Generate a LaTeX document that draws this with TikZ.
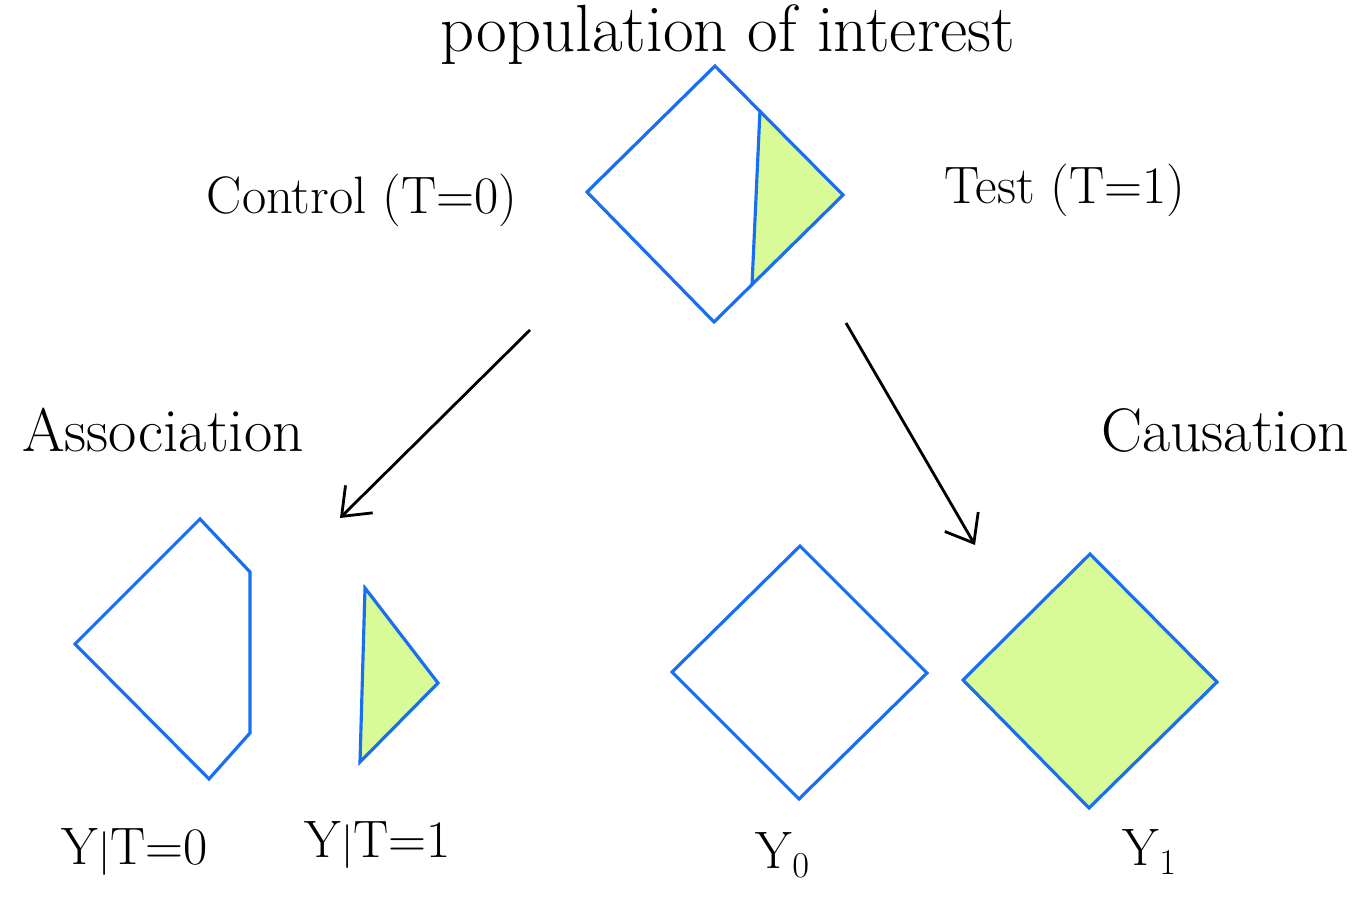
\documentclass[tikz,border=0pt]{standalone}
\usetikzlibrary{arrows.meta}
\definecolor{hblue}{HTML}{1A6EF0}
\definecolor{hgreen}{HTML}{D8FB98}
\tikzset{
  shp/.style={draw=hblue, line width=1.8pt, line join=miter},
  gshp/.style={shp, fill=hgreen},
  lbl/.style={font=\fontsize{30}{34}\selectfont, text=black},
  arr/.style={draw=black, line width=1.6pt, -{Straight Barb[length=14pt,width=22pt]}}
}
\begin{document}
\begin{tikzpicture}[x=0.02cm,y=-0.02cm]
\useasboundingbox (0,0) rectangle (1358,898);
% top diamond
\fill[hgreen] (760,110) -- (843,195) -- (752,285) -- cycle;
\draw[shp] (715,66) -- (843,195) -- (714,322) -- (587,192) -- cycle;
\draw[shp] (760,110) -- (752,285);
\node[lbl, font=\fontsize{38}{42}\selectfont] (title) at (728,35) {population of interest};
\node[lbl] (ctrl) at (362,200) {Control (T=0)};
\node[lbl] (test) at (1065,190) {Test (T=1)};
\coordinate (a1s) at (530,330); \coordinate (a1e) at (340,518);
\coordinate (a2s) at (846,323); \coordinate (a2e) at (975,545);
\draw[arr] (a1s) -- (a1e);
\draw[arr] (a2s) -- (a2e);
\node[lbl, font=\fontsize{35}{40}\selectfont] (assoc) at (163,430) {Association};
\node[lbl, font=\fontsize{35}{40}\selectfont] (caus) at (1225,430) {Causation};
% bottom shapes
\draw[shp] (200,519) -- (250,572) -- (250,733) -- (209,779) -- (75,644) -- cycle;
\draw[gshp] (365,588) -- (438,683) -- (360,762) -- cycle;
\draw[shp] (800,546) -- (927,673) -- (799,799) -- (672,672) -- cycle;
\draw[gshp] (1090,554) -- (1217,682) -- (1089,808) -- (963,680) -- cycle;
\node[lbl] (l0) at (135,852) {Y$|$T=0};
\node[lbl] (l1) at (378,845) {Y$|$T=1};
\node[lbl] (y0) at (783,855) {Y$_0$};
\node[lbl] (y1) at (1150,852) {Y$_1$};
\end{tikzpicture}
\end{document}
